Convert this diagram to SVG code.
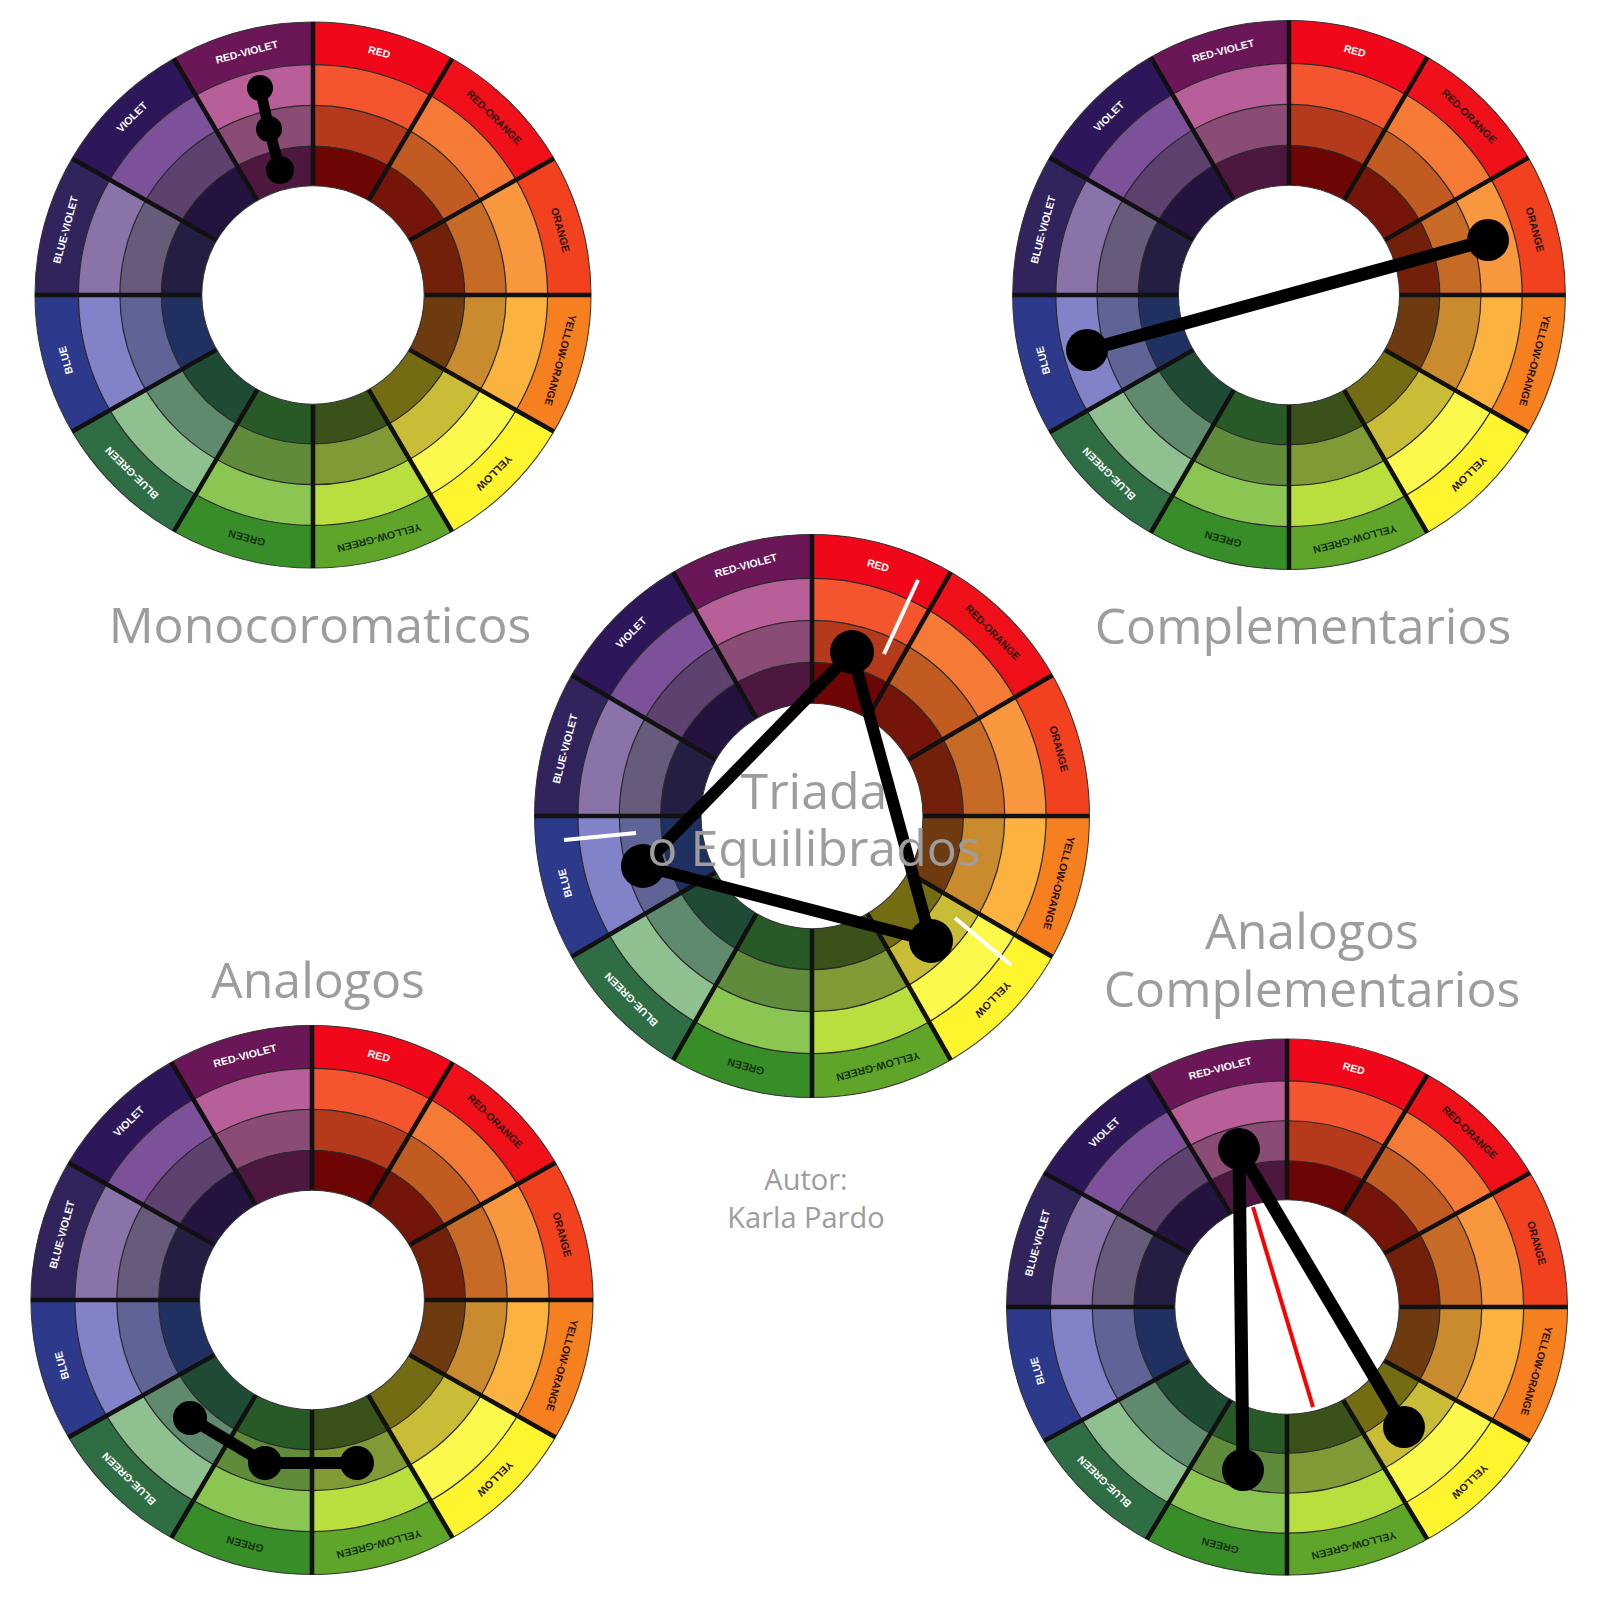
<svg xmlns="http://www.w3.org/2000/svg" xmlns:xlink="http://www.w3.org/1999/xlink" width="1600" height="1600" viewBox="0 0 1600 1600">
<style>
.lbl{font-family:"Liberation Sans",Arial,sans-serif;font-weight:bold;font-size:10.5px;text-anchor:middle}
.lw{fill:#ffffff}
.ld{fill:#2a120c}
.lg{fill:#15300f}
.sep{stroke:#111;stroke-width:4.5;fill:none}
.ring{stroke:#2a2a2a;stroke-width:1.2;fill:none}
.title{font-family:"Open Sans","DejaVu Sans",sans-serif;font-size:50px;fill:#9d9d9d;text-anchor:middle}
.author{font-family:"Open Sans","DejaVu Sans",sans-serif;font-size:29px;fill:#9d9d9d;text-anchor:middle}
.bar{stroke:#000;fill:none;stroke-linecap:round;stroke-linejoin:round}
.dot{fill:#000}
.wl{stroke:#fff;stroke-width:4;fill:none}
.rl{stroke:#ff0000;stroke-width:4;fill:none}
</style>
<defs>
<path id="w0" d="M0,0 L0,-275 A275,275 0 0 1 137.5,-238.157 Z"/>
<path id="w1" d="M0,0 L0,-232 A232,232 0 0 1 116,-200.918 Z"/>
<path id="w2" d="M0,0 L0,-191 A191,191 0 0 1 95.5,-165.411 Z"/>
<path id="w3" d="M0,0 L0,-150 A150,150 0 0 1 75,-129.904 Z"/>
<g id="wheel">
<use xlink:href="#w0" href="#w0" fill="#f0081a"/>
<use xlink:href="#w0" href="#w0" transform="rotate(30)" fill="#f0101a"/>
<use xlink:href="#w0" href="#w0" transform="rotate(60)" fill="#f1411f"/>
<use xlink:href="#w0" href="#w0" transform="rotate(90)" fill="#f6801f"/>
<use xlink:href="#w0" href="#w0" transform="rotate(120)" fill="#fef52e"/>
<use xlink:href="#w0" href="#w0" transform="rotate(150)" fill="#5ea52a"/>
<use xlink:href="#w0" href="#w0" transform="rotate(180)" fill="#378d28"/>
<use xlink:href="#w0" href="#w0" transform="rotate(210)" fill="#2f6e45"/>
<use xlink:href="#w0" href="#w0" transform="rotate(240)" fill="#2d3a8c"/>
<use xlink:href="#w0" href="#w0" transform="rotate(270)" fill="#31235b"/>
<use xlink:href="#w0" href="#w0" transform="rotate(300)" fill="#2e165a"/>
<use xlink:href="#w0" href="#w0" transform="rotate(330)" fill="#6b1656"/>
<use xlink:href="#w1" href="#w1" fill="#f4552e"/>
<use xlink:href="#w1" href="#w1" transform="rotate(30)" fill="#f57a35"/>
<use xlink:href="#w1" href="#w1" transform="rotate(60)" fill="#f8973d"/>
<use xlink:href="#w1" href="#w1" transform="rotate(90)" fill="#fcb23f"/>
<use xlink:href="#w1" href="#w1" transform="rotate(120)" fill="#fbfa4c"/>
<use xlink:href="#w1" href="#w1" transform="rotate(150)" fill="#b9df3f"/>
<use xlink:href="#w1" href="#w1" transform="rotate(180)" fill="#8bc653"/>
<use xlink:href="#w1" href="#w1" transform="rotate(210)" fill="#8fc190"/>
<use xlink:href="#w1" href="#w1" transform="rotate(240)" fill="#8282c8"/>
<use xlink:href="#w1" href="#w1" transform="rotate(270)" fill="#8a73a9"/>
<use xlink:href="#w1" href="#w1" transform="rotate(300)" fill="#7c5199"/>
<use xlink:href="#w1" href="#w1" transform="rotate(330)" fill="#b85e98"/>
<use xlink:href="#w2" href="#w2" fill="#b53a1b"/>
<use xlink:href="#w2" href="#w2" transform="rotate(30)" fill="#c25b22"/>
<use xlink:href="#w2" href="#w2" transform="rotate(60)" fill="#c66a26"/>
<use xlink:href="#w2" href="#w2" transform="rotate(90)" fill="#c98b2e"/>
<use xlink:href="#w2" href="#w2" transform="rotate(120)" fill="#c9bd38"/>
<use xlink:href="#w2" href="#w2" transform="rotate(150)" fill="#809a36"/>
<use xlink:href="#w2" href="#w2" transform="rotate(180)" fill="#5f8b3b"/>
<use xlink:href="#w2" href="#w2" transform="rotate(210)" fill="#5f8a6d"/>
<use xlink:href="#w2" href="#w2" transform="rotate(240)" fill="#5f6396"/>
<use xlink:href="#w2" href="#w2" transform="rotate(270)" fill="#675a7b"/>
<use xlink:href="#w2" href="#w2" transform="rotate(300)" fill="#5d416f"/>
<use xlink:href="#w2" href="#w2" transform="rotate(330)" fill="#8a4c75"/>
<use xlink:href="#w3" href="#w3" fill="#6d0505"/>
<use xlink:href="#w3" href="#w3" transform="rotate(30)" fill="#751408"/>
<use xlink:href="#w3" href="#w3" transform="rotate(60)" fill="#72200a"/>
<use xlink:href="#w3" href="#w3" transform="rotate(90)" fill="#6e3a10"/>
<use xlink:href="#w3" href="#w3" transform="rotate(120)" fill="#736c12"/>
<use xlink:href="#w3" href="#w3" transform="rotate(150)" fill="#3a521a"/>
<use xlink:href="#w3" href="#w3" transform="rotate(180)" fill="#285a28"/>
<use xlink:href="#w3" href="#w3" transform="rotate(210)" fill="#1f4a33"/>
<use xlink:href="#w3" href="#w3" transform="rotate(240)" fill="#203060"/>
<use xlink:href="#w3" href="#w3" transform="rotate(270)" fill="#231e42"/>
<use xlink:href="#w3" href="#w3" transform="rotate(300)" fill="#24123f"/>
<use xlink:href="#w3" href="#w3" transform="rotate(330)" fill="#4d1740"/>
<circle class="ring" r="232"/>
<circle class="ring" r="191"/>
<circle class="ring" r="150"/>
<circle r="275" fill="none" stroke="#333" stroke-width="1"/>
<g class="sep">
<line x1="0" y1="-110" x2="0" y2="-275"/>
<line x1="0" y1="-110" x2="0" y2="-275" transform="rotate(30)"/>
<line x1="0" y1="-110" x2="0" y2="-275" transform="rotate(60)"/>
<line x1="0" y1="-110" x2="0" y2="-275" transform="rotate(90)"/>
<line x1="0" y1="-110" x2="0" y2="-275" transform="rotate(120)"/>
<line x1="0" y1="-110" x2="0" y2="-275" transform="rotate(150)"/>
<line x1="0" y1="-110" x2="0" y2="-275" transform="rotate(180)"/>
<line x1="0" y1="-110" x2="0" y2="-275" transform="rotate(210)"/>
<line x1="0" y1="-110" x2="0" y2="-275" transform="rotate(240)"/>
<line x1="0" y1="-110" x2="0" y2="-275" transform="rotate(270)"/>
<line x1="0" y1="-110" x2="0" y2="-275" transform="rotate(300)"/>
<line x1="0" y1="-110" x2="0" y2="-275" transform="rotate(330)"/>
</g>
<circle r="110" fill="#ffffff" stroke="#333" stroke-width="1"/>
<g class="lbl">
<text class="lw" transform="rotate(15) translate(0,-253.5)" dy="0.36em">RED</text>
<text class="ld" transform="rotate(45) translate(0,-253.5)" dy="0.36em">RED-ORANGE</text>
<text class="ld" transform="rotate(75) translate(0,-253.5)" dy="0.36em">ORANGE</text>
<text class="ld" transform="rotate(105) translate(0,-253.5)" dy="0.36em">YELLOW-ORANGE</text>
<text class="ld" transform="rotate(135) translate(0,-253.5)" dy="0.36em">YELLOW</text>
<text class="lg" transform="rotate(165) translate(0,-253.5)" dy="0.36em">YELLOW-GREEN</text>
<text class="lg" transform="rotate(195) translate(0,-253.5)" dy="0.36em">GREEN</text>
<text class="lw" transform="rotate(225) translate(0,-253.5)" dy="0.36em">BLUE-GREEN</text>
<text class="lw" transform="rotate(255) translate(0,-253.5)" dy="0.36em">BLUE</text>
<text class="lw" transform="rotate(285) translate(0,-253.5)" dy="0.36em">BLUE-VIOLET</text>
<text class="lw" transform="rotate(315) translate(0,-253.5)" dy="0.36em">VIOLET</text>
<text class="lw" transform="rotate(345) translate(0,-253.5)" dy="0.36em">RED-VIOLET</text>
</g>
</g>
</defs>
<rect width="1600" height="1600" fill="#ffffff"/>
<g id="wheel-monocromaticos"><use xlink:href="#wheel" href="#wheel" transform="translate(313,295) scale(1.011,0.993)"/></g>
<g id="wheel-complementarios"><use xlink:href="#wheel" href="#wheel" transform="translate(1289,295) scale(1.005,0.998)"/></g>
<g id="wheel-triada"><use xlink:href="#wheel" href="#wheel" transform="translate(812,816) scale(1.009,1.024)"/></g>
<g id="wheel-analogos"><use xlink:href="#wheel" href="#wheel" transform="translate(312,1300) scale(1.022,0.998)"/></g>
<g id="wheel-analogos-complementarios"><use xlink:href="#wheel" href="#wheel" transform="translate(1287,1307) scale(1.02,0.975)"/></g>
<g id="connectors">
<polyline class="bar" stroke-width="11" points="260,88 269,129 280,170"/>
<circle class="dot" cx="260" cy="88" r="13"/>
<circle class="dot" cx="269" cy="129" r="13"/>
<circle class="dot" cx="280" cy="170" r="14"/>
<line class="bar" stroke-width="13" x1="1087" y1="350" x2="1488" y2="240"/>
<circle class="dot" cx="1087" cy="350" r="21"/>
<circle class="dot" cx="1488" cy="240" r="21"/>
<polygon class="bar" stroke-width="12" points="852,652 643,866 931,941"/>
<circle class="dot" cx="852" cy="652" r="22"/>
<circle class="dot" cx="643" cy="866" r="22"/>
<circle class="dot" cx="931" cy="941" r="22"/>
<line class="wl" x1="884" y1="654" x2="918" y2="580"/>
<line class="wl" x1="564" y1="840" x2="636" y2="833"/>
<line class="wl" x1="955" y1="918" x2="1011" y2="965"/>
<polyline class="bar" stroke-width="12" points="190,1418 265,1463 357,1463"/>
<circle class="dot" cx="190" cy="1418" r="17"/>
<circle class="dot" cx="265" cy="1463" r="17"/>
<circle class="dot" cx="357" cy="1463" r="17"/>
<line class="rl" x1="1253" y1="1207" x2="1313" y2="1407"/>
<polyline class="bar" stroke-width="13" points="1243,1470 1239,1149 1404,1427"/>
<circle class="dot" cx="1239" cy="1149" r="21"/>
<circle class="dot" cx="1243" cy="1470" r="21"/>
<circle class="dot" cx="1404" cy="1427" r="21"/>
</g>
<g id="titles">
<text class="title" x="320" y="643">Monocoromaticos</text>
<text class="title" x="1303" y="644">Complementarios</text>
<text class="title" x="814" y="809">Triada</text>
<text class="title" x="814" y="866">o Equilibrados</text>
<text class="title" x="318" y="998">Analogos</text>
<text class="title" x="1312" y="949">Analogos</text>
<text class="title" x="1312" y="1007">Complementarios</text>
<text class="author" x="806" y="1190">Autor:</text>
<text class="author" x="806" y="1228">Karla Pardo</text>
</g>
</svg>
